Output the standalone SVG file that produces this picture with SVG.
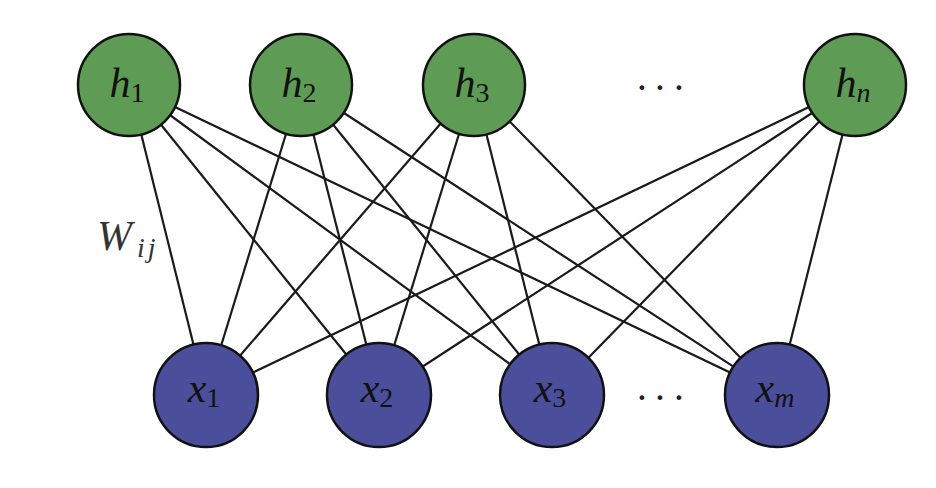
<svg xmlns="http://www.w3.org/2000/svg" width="936" height="488" viewBox="0 0 936 488">
<style>
.e{stroke:#1a1a1a;stroke-width:2.2}
.h{fill:#5e9c55;stroke:#111;stroke-width:2.5}
.x{fill:#4b4e9b;stroke:#111;stroke-width:2.5}
.t{font-family:"Liberation Serif",serif;font-style:italic;font-size:42px;fill:#111;text-anchor:middle}
.s{font-family:"Liberation Serif",serif;font-style:normal;font-size:28px}
.si{font-family:"Liberation Serif",serif;font-style:italic;font-size:28px}
.d{font-family:"Liberation Serif",serif;font-size:40px;fill:#222;text-anchor:middle}
</style>
<rect width="936" height="488" fill="#fff"/>
<g id="connectors">
<line class="e" x1="129" y1="85" x2="206" y2="395"/>
<line class="e" x1="129" y1="85" x2="379" y2="395"/>
<line class="e" x1="129" y1="85" x2="552" y2="395"/>
<line class="e" x1="129" y1="85" x2="777" y2="395"/>
<line class="e" x1="301" y1="85" x2="206" y2="395"/>
<line class="e" x1="301" y1="85" x2="379" y2="395"/>
<line class="e" x1="301" y1="85" x2="552" y2="395"/>
<line class="e" x1="301" y1="85" x2="777" y2="395"/>
<line class="e" x1="474" y1="85" x2="206" y2="395"/>
<line class="e" x1="474" y1="85" x2="379" y2="395"/>
<line class="e" x1="474" y1="85" x2="552" y2="395"/>
<line class="e" x1="474" y1="85" x2="777" y2="395"/>
<line class="e" x1="855" y1="85" x2="206" y2="395"/>
<line class="e" x1="855" y1="85" x2="379" y2="395"/>
<line class="e" x1="855" y1="85" x2="552" y2="395"/>
<line class="e" x1="855" y1="85" x2="777" y2="395"/>
</g>
<text class="t" x="97" y="250" style="fill:#333;text-anchor:start">W<tspan class="si" dx="5" dy="7" letter-spacing="3">ij</tspan></text>
<g id="h1"><circle class="h" cx="129" cy="85" r="51"/><text class="t" x="127" y="97">h<tspan class="s" dy="5">1</tspan></text></g>
<g id="h2"><circle class="h" cx="301" cy="85" r="51"/><text class="t" x="299" y="97">h<tspan class="s" dy="5">2</tspan></text></g>
<g id="h3"><circle class="h" cx="474" cy="85" r="51"/><text class="t" x="472" y="97">h<tspan class="s" dy="5">3</tspan></text></g>
<g id="hn"><circle class="h" cx="855" cy="85" r="51"/><text class="t" x="853" y="97">h<tspan class="si" dy="5">n</tspan></text></g>
<g id="x1"><circle class="x" cx="206" cy="395" r="52"/><text class="t" x="204" y="402">x<tspan class="s" dy="5">1</tspan></text></g>
<g id="x2"><circle class="x" cx="379" cy="395" r="52"/><text class="t" x="377" y="402">x<tspan class="s" dy="5">2</tspan></text></g>
<g id="x3"><circle class="x" cx="552" cy="395" r="52"/><text class="t" x="550" y="402">x<tspan class="s" dy="5">3</tspan></text></g>
<g id="xm"><circle class="x" cx="777" cy="395" r="52"/><text class="t" x="775" y="402">x<tspan class="si" dy="5">m</tspan></text></g>
<text class="d" x="642 660 679" y="101">···</text>
<text class="d" x="642 660 679" y="411">···</text>
</svg>
